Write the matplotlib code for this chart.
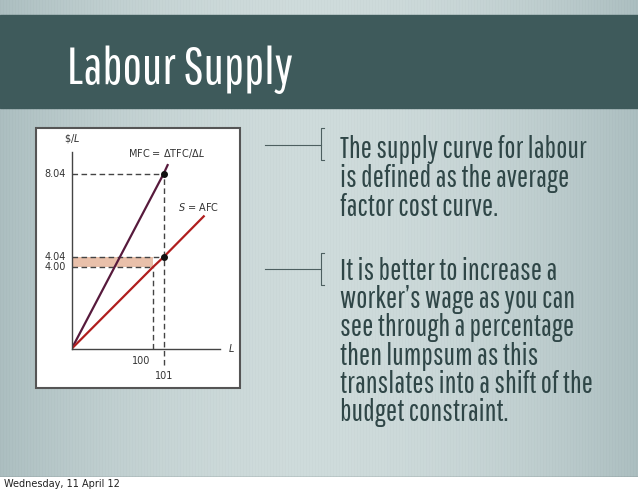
import numpy as np
import matplotlib
matplotlib.use("Agg")
import matplotlib.pyplot as plt
from matplotlib.scale import FuncScale

# data (schematic diagram from the slide)
wage_ticks = [4.00, 4.04, 8.04]
wage_labels = ["4.00", "4.04", "8.04"]
labour_ticks = [100, 101]
labour_labels = ["100", "101"]
afc_L = [0, 100, 101, 104.7]
afc_w = [0, 4.00, 4.04, 6.03]
mfc_L = [0, 101, 101.4]
mfc_w = [0, 8.04, 8.5]
title = "Labour Supply"
para1 = ["The supply curve for labour", "is defined as the average", "factor cost curve."]
para2 = ["It is better to increase a", "worker\u2019s wage as you can", "see through a percentage",
         "then lumpsum as this", "translates into a shift of the", "budget constraint."]
footer = "Wednesday, 11 April 12"

W, H = 638, 491
FAM = ["Pathway Gothic One", "Antonio", "DejaVu Sans"]
fig = plt.figure(figsize=(W / 100, H / 100), dpi=100)
fig.patch.set_facecolor("white")
renderer = fig.canvas.get_renderer()

def px(x0, y0, x1, y1):
    # pixel box (top-left origin) -> figure fraction rect
    return [x0 / W, 1 - y1 / H, (x1 - x0) / W, (y1 - y0) / H]

def fit(t, width):
    # shrink/grow a text so it spans `width` pixels
    w = t.get_window_extent(renderer).width
    t.set_fontsize(t.get_fontsize() * width / w)
    return t.get_fontsize()

# slide background with soft horizontal gradient and pinstripes
bg = fig.add_axes(px(0, 0, W, 477))
xx = np.linspace(-1, 1, W)
g = 1 - 0.75 * xx ** 2
stripe = 0.012 * (np.arange(W) % 3 == 0)
edge = np.array([0.63, 0.71, 0.72]); mid = np.array([0.81, 0.86, 0.86])
row = edge[None, :] + (mid - edge)[None, :] * g[:, None] - stripe[:, None]
bg.imshow(np.repeat(row[None, :, :], 10, axis=0), aspect="auto", extent=(0, W, 477, 0))
bg.set_xlim(0, W); bg.set_ylim(477, 0); bg.axis("off")
bg.add_patch(plt.Rectangle((0, 15), W, 93, color="#3e5a5b"))
bg.axhline(477, color="#6d7b7c", lw=1)
tt = bg.text(67, 84, title, color="white", fontsize=40, family=FAM, va="baseline")
fit(tt, 226)

# chart card
bg.add_patch(plt.Rectangle((36, 128), 204, 260, facecolor="white", edgecolor="#555555", lw=1.5))

# right-hand text with bracket markers
t0 = bg.text(340, 158, para1[0], color="#2f4647", fontsize=18, family=FAM, va="baseline")
fs = fit(t0, 248)
for i, s in enumerate(para1[1:], 1):
    bg.text(340, 158 + i * 29, s, color="#2f4647", fontsize=fs, family=FAM, va="baseline")
for i, s in enumerate(para2):
    bg.text(340, 280 + i * 28.2, s, color="#2f4647", fontsize=fs, family=FAM, va="baseline")
for yc, (t, b) in [(145, (128, 160)), (269, (253, 285))]:
    bg.plot([265, 321], [yc, yc], color="#4d5f60", lw=0.8)
    bg.plot([324, 321, 321, 324], [t, t, b, b], color="#4d5f60", lw=0.8)

fig.text(4 / W, 1 - 484 / H, footer, fontsize=7, va="center", color="#222222")

# piecewise scales so the labelled points sit where the textbook drew them
xs_d = [-100, 0, 100, 101, 200]; xs_p = [-80.6, 0, 80.6, 91.6, 1180.6]
ys_d = [-4, 0, 4.00, 4.04, 8.04, 20]; ys_p = [-81, 0, 81, 91.4, 174.4, 422.6]
ax = fig.add_axes(px(71.7, 152, 220, 348.7))
ax.set_xscale(FuncScale(ax.xaxis, (lambda v: np.interp(v, xs_d, xs_p), lambda v: np.interp(v, xs_p, xs_d))))
ax.set_yscale(FuncScale(ax.yaxis, (lambda v: np.interp(v, ys_d, ys_p), lambda v: np.interp(v, ys_p, ys_d))))
ax.set_xlim(0, 106.1); ax.set_ylim(0, 9.08)
ax.patch.set_alpha(0)
for s in ("top", "right"):
    ax.spines[s].set_visible(False)
for s in ("left", "bottom"):
    ax.spines[s].set_color("#444444"); ax.spines[s].set_linewidth(1)
ax.set_xticks([]); ax.set_yticks([])

dash = dict(color="#444444", lw=1, ls=(0, (4, 2.5)), clip_on=False)
ax.fill_between([0, labour_ticks[0]], wage_ticks[0], wage_ticks[1], color="#e9c0aa", lw=0)
ax.plot([0, labour_ticks[1]], [wage_ticks[2]] * 2, **dash)
ax.plot([0, labour_ticks[1]], [wage_ticks[1]] * 2, **dash)
ax.plot([0, labour_ticks[0]], [wage_ticks[0]] * 2, **dash)
ax.plot([labour_ticks[0]] * 2, [0, wage_ticks[0]], **dash)
ax.plot([labour_ticks[1]] * 2, [-0.8, wage_ticks[2]], **dash)
ax.plot(mfc_L, mfc_w, color="#571a3c", lw=1.6, solid_capstyle="butt")
ax.plot(afc_L, afc_w, color="#b01e1e", lw=1.6, solid_capstyle="butt")
ax.plot([labour_ticks[1]] * 2, [wage_ticks[2], wage_ticks[1]], "o", color="#111111", ms=4, zorder=5)

lab = dict(fontsize=7, color="#333333", family="DejaVu Sans")
for v, s in zip(wage_ticks, wage_labels):
    ax.annotate(s, (0, v), xytext=(-4, 0), textcoords="offset points", ha="right", va="center", **lab)
ax.annotate(labour_labels[0], (labour_ticks[0], 0), xytext=(-1.5, -5), textcoords="offset points",
            ha="right", va="top", **lab)
ax.annotate(labour_labels[1], (labour_ticks[1], 0), xytext=(0, -16), textcoords="offset points",
            ha="center", va="top", **lab)
ax.annotate("\\$/$L$", (0, 9.08), xytext=(0, 5), textcoords="offset points", ha="center", va="bottom", **lab)
ax.annotate("L", (106.1, 0), xytext=(6, 0), textcoords="offset points", ha="left", va="center",
            style="italic", **lab)
ax.text(0.38, 0.99, "MFC = \u0394TFC/\u0394$L$", transform=ax.transAxes, ha="left", va="center", **lab)
ax.text(0.72, 0.72, "$S$ = AFC", transform=ax.transAxes, ha="left", va="center", **lab)

fig.savefig("out.png", dpi=100)
